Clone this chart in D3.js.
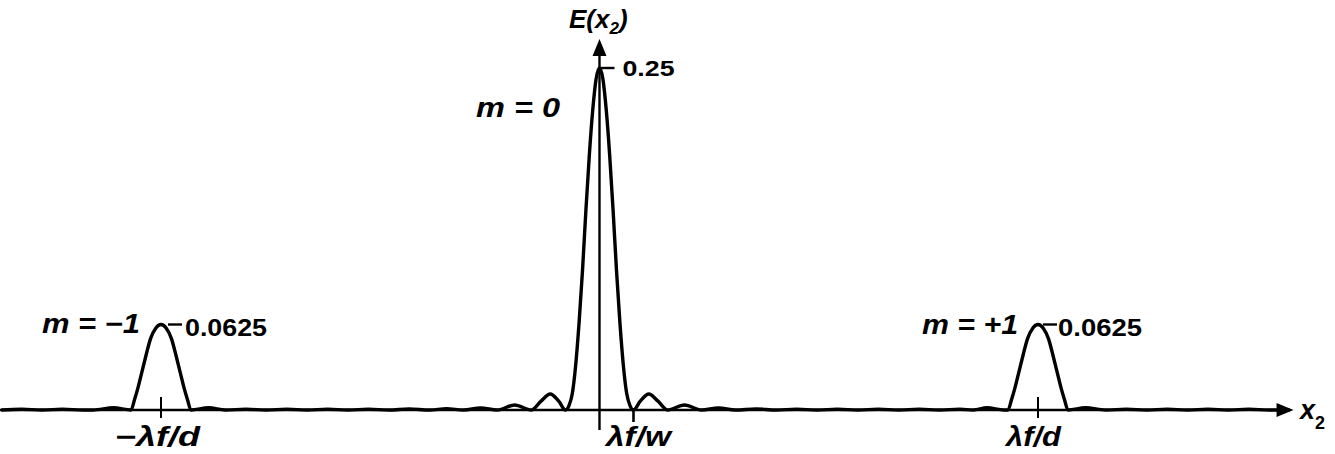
<!DOCTYPE html>
<html>
<head>
<meta charset="utf-8">
<script src="https://cdn.jsdelivr.net/npm/d3@7/dist/d3.min.js"></script>
<style>
  html, body { margin: 0; padding: 0; background: #fff; }
  svg { display: block; }
  text { font-family: "Liberation Sans", Arial, sans-serif; font-weight: bold; fill: #000; }
</style>
</head>
<body>
<svg id="chart" width="1335" height="454"></svg>
<script>
// x in units of λf/w (zero of central order), centre at 0
const curveX = [
  -17.6, -17.0, -16.4, -15.8, -15.2, -14.9, -14.3, -13.78,
  -13.68, -13.58, -13.47, -13.34, -13.21, -13.05, -12.9,
  -12.75, -12.59, -12.46, -12.33, -12.22, -12.12, -12.02,
  -11.5, -11.0, -10.4, -9.8, -9.2, -8.6, -8.0, -7.4, -6.8, -6.2, -5.6, -5.0,
  -4.5, -4.0, -3.5, -3.0, -2.5, -2.0, -1.72, -1.45, -1.2, -1.0,
  -0.9, -0.8, -0.7, -0.6, -0.5, -0.4, -0.3, -0.2, -0.1, 0,
  0.1, 0.2, 0.3, 0.4, 0.5, 0.6, 0.7, 0.8, 0.9,
  1.0, 1.2, 1.45, 1.72, 2.0, 2.5, 3.0, 3.5, 4.0, 4.6, 5.2,
  5.8, 6.4, 7.0, 7.6, 8.2, 8.8, 9.4, 10.0, 10.6, 11.0, 11.4, 11.9,
  12.02, 12.12, 12.22, 12.33, 12.46, 12.59, 12.75, 12.9,
  13.05, 13.21, 13.34, 13.47, 13.58, 13.68, 13.78,
  14.3, 14.9, 15.5, 16.1, 16.7, 17.3, 17.9, 18.5, 19.1, 19.7, 20.3
];
const curveY = [
  0, 0.0006, 0, 0.0006, 0, 0, 0.0016, 0,
  0.0075, 0.016, 0.027, 0.040, 0.052, 0.060, 0.0625,
  0.060, 0.052, 0.040, 0.027, 0.016, 0.0075, 0,
  0.0016, 0, 0.0006, 0, 0.0006, 0, 0.0006, 0, 0.0006, 0, 0.0008, 0,
  0.001, 0, 0.0015, 0, 0.0037, 0, 0.0065, 0.0117, 0.0065, 0,
  0.003, 0.012, 0.033, 0.064, 0.102, 0.146, 0.186, 0.219, 0.242, 0.250,
  0.242, 0.219, 0.186, 0.146, 0.102, 0.064, 0.033, 0.012, 0.003,
  0, 0.0065, 0.0117, 0.0065, 0, 0.0037, 0, 0.0015, 0, 0.0008, 0,
  0.0006, 0, 0.0006, 0, 0.0006, 0, 0.0006, 0, 0.0006, 0, 0.0016, 0,
  0, 0.0075, 0.016, 0.027, 0.040, 0.052, 0.060, 0.0625,
  0.060, 0.052, 0.040, 0.027, 0.016, 0.0075, 0,
  0.0016, 0, 0.0006, 0, 0.0006, 0, 0.0006, 0, 0.0006, 0, 0
];

const orderNames  = ["m = \u22121", "m = 0", "m = +1"];
const orderX      = [-12.9, 0, 12.9];
const orderPeak   = [0.0625, 0.25, 0.0625];
const peakLabels  = ["0.0625", "0.25", "0.0625"];
const xTickVals   = [-12.9, 1, 12.9];
const xTickLabels = ["\u2212\u03bbf/d", "\u03bbf/w", "\u03bbf/d"];
const axisExtent  = [-17.65, 20.3];

const svg = d3.select("#chart");
const x = d3.scaleLinear().domain([-12.9, 12.9]).range([161, 1038]);
const y = d3.scaleLinear().domain([0, 0.25]).range([410, 68]);
const y0 = y(0);
const x0 = x(0);

// x axis
svg.append("line")
  .attr("x1", x(axisExtent[0])).attr("x2", x(axisExtent[1]))
  .attr("y1", y0).attr("y2", y0)
  .attr("stroke", "#000").attr("stroke-width", 2.6);
const xe = x(axisExtent[1]);
svg.append("path")
  .attr("d", `M${xe - 13},${y0 - 7} L${xe + 4},${y0} L${xe - 13},${y0 + 7} Z`)
  .attr("fill", "#000");

// y axis
svg.append("line")
  .attr("x1", x0).attr("x2", x0)
  .attr("y1", y0 + 20).attr("y2", 52)
  .attr("stroke", "#000").attr("stroke-width", 2.4);
svg.append("path")
  .attr("d", `M${x0 - 7},${56} L${x0},${39} L${x0 + 7},${56} Z`)
  .attr("fill", "#000");

// x ticks
xTickVals.forEach((v, i) => {
  const isW = i === 1;
  svg.append("line")
    .attr("x1", x(v)).attr("x2", x(v))
    .attr("y1", isW ? y0 - 2 : y0 - 13).attr("y2", isW ? y0 + 12 : y0 + 8)
    .attr("stroke", "#000").attr("stroke-width", isW ? 2.6 : 2);
});

// curve
const pts = curveX.map((v, i) => [v, curveY[i]]);
svg.append("path")
  .datum(pts)
  .attr("d", d3.line().x(d => x(d[0])).y(d => y(d[1])).curve(d3.curveMonotoneX))
  .attr("fill", "none").attr("stroke", "#000")
  .attr("stroke-width", 3.4).attr("stroke-linejoin", "round");

// peak value ticks + labels
const peakLabelPos = [{dx: 7, lx: 24, w: 82, fs: 24, by: 11}, {dx: 1, lx: 23, w: 52, fs: 22, by: 8}, {dx: 5, lx: 20, w: 84, fs: 24, by: 11}];
orderX.forEach((v, i) => {
  const px = x(v) + peakLabelPos[i].dx;
  const py = y(orderPeak[i]);
  svg.append("line")
    .attr("x1", px).attr("x2", px + 14)
    .attr("y1", py).attr("y2", py)
    .attr("stroke", "#000").attr("stroke-width", 2.4);
  svg.append("text")
    .attr("x", x(v) + peakLabelPos[i].lx).attr("y", py + peakLabelPos[i].by)
    .attr("font-size", peakLabelPos[i].fs)
    .attr("textLength", peakLabelPos[i].w).attr("lengthAdjust", "spacingAndGlyphs")
    .text(peakLabels[i]);
});

// order labels
const orderLabelPos = [{x: 42, y: 333, w: 98}, {x: 476, y: 117, w: 84}, {x: 922, y: 334, w: 96}];
orderNames.forEach((t, i) => {
  svg.append("text")
    .attr("x", orderLabelPos[i].x).attr("y", orderLabelPos[i].y)
    .attr("font-size", 27).attr("font-style", "italic")
    .attr("textLength", orderLabelPos[i].w).attr("lengthAdjust", "spacingAndGlyphs")
    .text(t);
});

// x tick labels
const tickLabelPos = [{x: 115, w: 85}, {x: 606, w: 65}, {x: 1006, w: 55}];
xTickLabels.forEach((t, i) => {
  svg.append("text")
    .attr("x", tickLabelPos[i].x).attr("y", 446)
    .attr("font-size", 27).attr("font-style", "italic")
    .attr("textLength", tickLabelPos[i].w).attr("lengthAdjust", "spacingAndGlyphs")
    .text(t);
});

// axis titles
const eT = svg.append("text").attr("x", 569).attr("y", 28)
  .attr("font-size", 26).attr("font-style", "italic");
eT.append("tspan").text("E(x");
eT.append("tspan").attr("font-size", 17).attr("dy", 6).text("2");
eT.append("tspan").attr("dy", -6).text(")");

const xT = svg.append("text").attr("x", 1300).attr("y", 419)
  .attr("font-size", 27).attr("font-style", "italic");
xT.append("tspan").text("x");
xT.append("tspan").attr("font-size", 18).attr("dy", 10).attr("font-style", "normal").text("2");
</script>
</body>
</html>
